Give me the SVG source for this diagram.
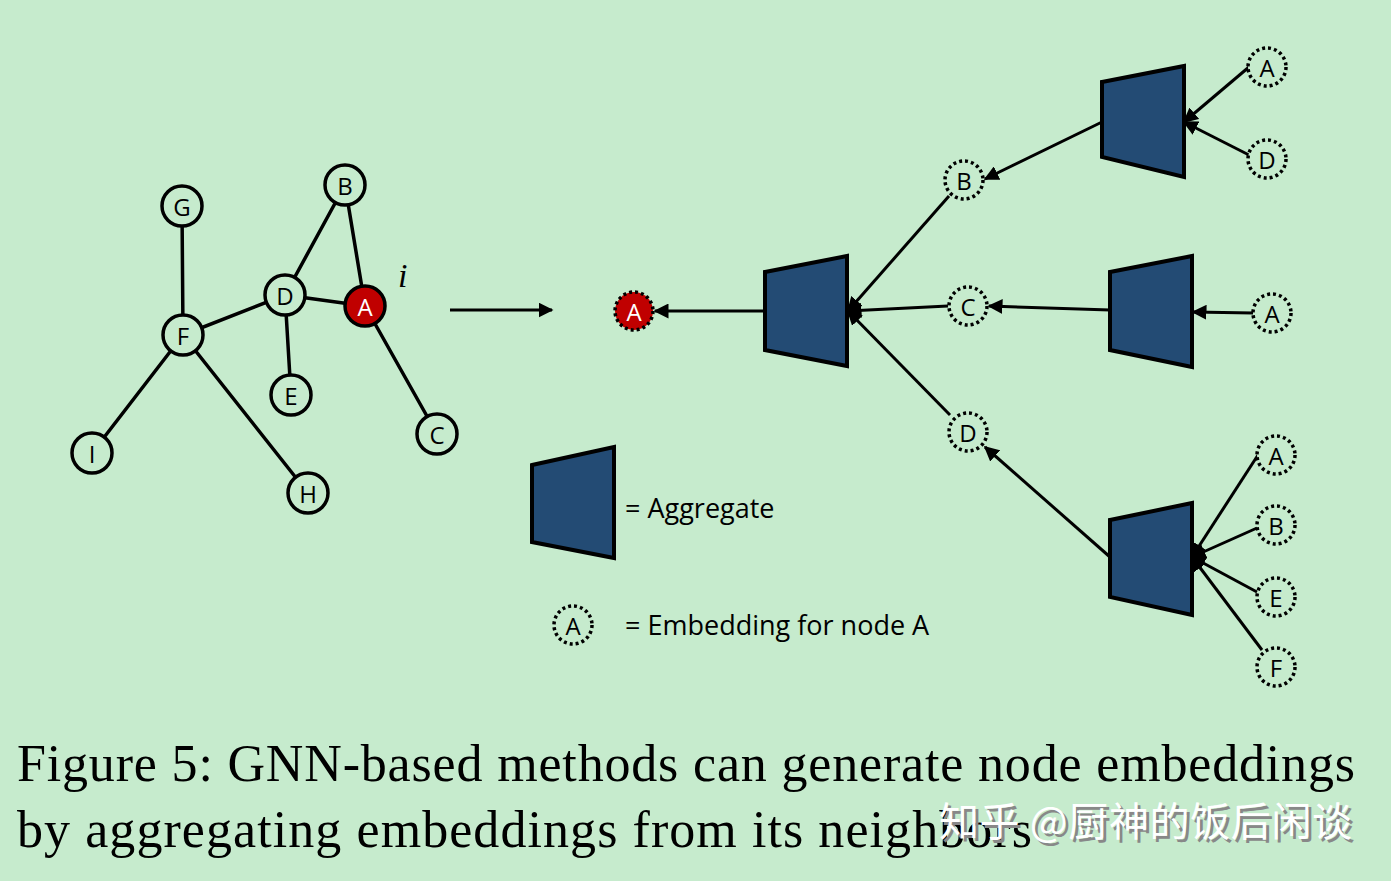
<svg xmlns="http://www.w3.org/2000/svg" width="1391" height="881" viewBox="0 0 1391 881">
<defs>
<marker id="ar" viewBox="0 0 10 10" refX="9" refY="5" markerWidth="5" markerHeight="5" orient="auto-start-reverse"><path d="M0,0 L10,5 L0,10 z" fill="#000"/></marker>
<style>
.n{fill:#c6ebcd;stroke:#000;stroke-width:3.5}
.r{fill:#c00000;stroke:#000;stroke-width:3.5}
.e{fill:#c6ebcd;stroke:#000;stroke-width:3.5;stroke-dasharray:3 3}
.er{fill:#c00000;stroke:#000;stroke-width:3.5;stroke-dasharray:3 3}
.t{font-family:"Open Sans","DejaVu Sans",sans-serif;font-size:24px;text-anchor:middle;dominant-baseline:central;fill:#000}
.tw{fill:#fff}
.tr{fill:#234b74;stroke:#000;stroke-width:4}
.l{stroke:#000;stroke-width:3.5;fill:none}
.a{stroke:#000;stroke-width:3;fill:none;marker-end:url(#ar)}
.cap{font-family:"Liberation Serif",serif;font-size:52px;fill:#000}
</style>
</defs>
<rect width="1391" height="881" fill="#c6ebcd"/>
<g id="connectors">
<path class="l" d="M182,206 L183,335 M183,335 L285,295 M285,295 L345,185 M345,185 L365,306 M285,295 L365,306 M285,295 L291,395 M365,306 L437,434 M183,335 L92,453 M183,335 L308,493"/>
<path class="a" d="M450,310 L552,310"/>
<path class="a" d="M765,311 L655,311"/>
<path class="a" d="M949,196 L848,311"/>
<path class="a" d="M948,306 L848,311"/>
<path class="a" d="M950,415 L848,311"/>
<path class="a" d="M1102,122 L985,179"/>
<path class="a" d="M1249,67 L1184,122"/>
<path class="a" d="M1249,155 L1184,122"/>
<path class="a" d="M1110,310 L989,306"/>
<path class="a" d="M1253,313 L1193,312"/>
<path class="a" d="M1110,557 L985,447"/>
<path class="a" d="M1258,455 L1192,557"/>
<path class="a" d="M1257,528 L1192,557"/>
<path class="a" d="M1257,592 L1192,557"/>
<path class="a" d="M1262,650 L1192,557"/>
</g>
<g id="nG"><circle class="n" cx="182" cy="206" r="20"/><text class="t" x="182" y="206">G</text></g>
<g id="nB"><circle class="n" cx="345" cy="185" r="20"/><text class="t" x="345" y="185">B</text></g>
<g id="nD"><circle class="n" cx="285" cy="295" r="20"/><text class="t" x="285" y="295">D</text></g>
<g id="nA"><circle class="r" cx="365" cy="306" r="20"/><text class="t tw" x="365" y="306">A</text></g>
<text x="398" y="287" font-family="Liberation Serif,serif" font-style="italic" font-size="34">i</text>
<g id="nF"><circle class="n" cx="183" cy="335" r="20"/><text class="t" x="183" y="335">F</text></g>
<g id="nE"><circle class="n" cx="291" cy="395" r="20"/><text class="t" x="291" y="395">E</text></g>
<g id="nC"><circle class="n" cx="437" cy="434" r="20"/><text class="t" x="437" y="434">C</text></g>
<g id="nI"><circle class="n" cx="92" cy="453" r="20"/><text class="t" x="92" y="453">I</text></g>
<g id="nH"><circle class="n" cx="308" cy="493" r="20"/><text class="t" x="308" y="493">H</text></g>
<g id="eA0"><circle class="er" cx="634" cy="311" r="19"/><text class="t tw" x="634" y="311">A</text></g>
<g id="agg0"><path class="tr" d="M765,272 L847,256 L847,366 L765,350 z"/></g>
<g id="eB"><circle class="e" cx="964" cy="180" r="19"/><text class="t" x="964" y="180">B</text></g>
<g id="eC"><circle class="e" cx="968" cy="306" r="19"/><text class="t" x="968" y="306">C</text></g>
<g id="eD"><circle class="e" cx="968" cy="432" r="19"/><text class="t" x="968" y="432">D</text></g>
<g id="agg1"><path class="tr" d="M1102,82 L1184,66 L1184,177 L1102,157 z"/></g>
<g id="agg2"><path class="tr" d="M1110,272 L1192,256 L1192,367 L1110,350 z"/></g>
<g id="agg3"><path class="tr" d="M1110,520 L1192,503 L1192,615 L1110,597 z"/></g>
<g id="e1A"><circle class="e" cx="1267" cy="67" r="19"/><text class="t" x="1267" y="67">A</text></g>
<g id="e1D"><circle class="e" cx="1267" cy="159" r="19"/><text class="t" x="1267" y="159">D</text></g>
<g id="e2A"><circle class="e" cx="1272" cy="313" r="19"/><text class="t" x="1272" y="313">A</text></g>
<g id="e3A"><circle class="e" cx="1276" cy="455" r="19"/><text class="t" x="1276" y="455">A</text></g>
<g id="e3B"><circle class="e" cx="1276" cy="525" r="19"/><text class="t" x="1276" y="525">B</text></g>
<g id="e3E"><circle class="e" cx="1276" cy="597" r="19"/><text class="t" x="1276" y="597">E</text></g>
<g id="e3F"><circle class="e" cx="1276" cy="667" r="19"/><text class="t" x="1276" y="667">F</text></g>
<g id="legend">
<path class="tr" d="M532,465 L614,447 L614,558 L532,542 z"/>
<text x="625" y="507" font-family="Open Sans,DejaVu Sans,sans-serif" font-size="27" dominant-baseline="central">= Aggregate</text>
<circle class="e" cx="573" cy="625" r="19"/><text class="t" x="573" y="625">A</text>
<text x="625" y="624" font-family="Open Sans,DejaVu Sans,sans-serif" font-size="27" dominant-baseline="central">= Embedding for node A</text>
</g>
<text class="cap" x="17" y="781" textLength="1338" lengthAdjust="spacing">Figure 5: GNN-based methods can generate node embeddings</text>
<text class="cap" x="17" y="847" textLength="1015" lengthAdjust="spacing">by aggregating embeddings from its neighbors</text>
<g font-family="Noto Sans CJK SC,sans-serif" font-size="40">
<text x="942" y="839" fill="#888" textLength="413">知乎 @厨神的饭后闲谈</text>
<text x="939" y="836" fill="#fff" textLength="413">知乎 @厨神的饭后闲谈</text>
</g>
</svg>
